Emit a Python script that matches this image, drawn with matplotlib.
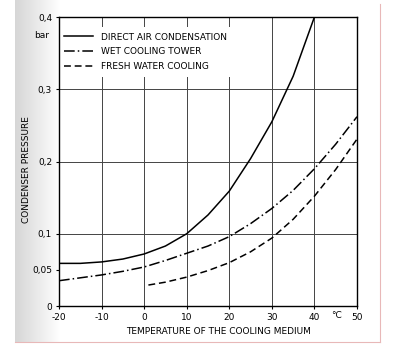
import numpy as np
import matplotlib
matplotlib.use("Agg")
import matplotlib.pyplot as plt

# ---- data ----
t_air = [-20, -15, -10, -5, 0, 5, 10, 15, 20, 25, 30, 35, 40]
p_air = [0.059, 0.059, 0.061, 0.065, 0.072, 0.083, 0.100, 0.126, 0.159, 0.204, 0.255, 0.318, 0.400]

t_wet = [-20, -15, -10, -5, 0, 5, 10, 15, 20, 25, 30, 35, 40, 45, 50]
p_wet = [0.035, 0.039, 0.043, 0.048, 0.054, 0.063, 0.073, 0.083, 0.096, 0.114, 0.135, 0.160, 0.190, 0.224, 0.262]

t_fresh = [1, 5, 10, 15, 20, 25, 30, 35, 40, 45, 50]
p_fresh = [0.029, 0.033, 0.040, 0.049, 0.060, 0.075, 0.094, 0.120, 0.152, 0.189, 0.231]

labels = ["DIRECT AIR CONDENSATION", "WET COOLING TOWER", "FRESH WATER COOLING"]
x_ticks = [-20, -10, 0, 10, 20, 30, 40, 50]
y_ticks = [0, 0.05, 0.1, 0.2, 0.3, 0.4]
y_ticklabels = ["0", "0,05", "0,1", "0,2", "0,3", "0,4"]
x_label = "TEMPERATURE OF THE COOLING MEDIUM"
y_label = "CONDENSER PRESSURE"

W, H = 400, 352
fig = plt.figure(figsize=(W / 100, H / 100), dpi=100)
fig.patch.set_facecolor("white")

# scanned-page background: gray shade on the left, pink page border
bg = fig.add_axes([0, 0, 1, 1], zorder=-5)
img = np.ones((H, W, 3))
xs = np.arange(W)
shade = np.clip((xs - 15) / 45.0, 0, 1)
g = 0.84 + 0.16 * shade
g[xs < 15] = 1.0
for c in range(3):
    img[:342, :, c] = g[None, :]
img[342:, :, :] = 1.0
img[:, 380:, :] = 1.0
bg.imshow(img, extent=[0, W, H, 0], aspect="auto", interpolation="bilinear")
bg.plot([15, 380], [342, 342], color="#e8b8b8", lw=0.8)
bg.plot([380, 380], [4, 342], color="#e8b8b8", lw=0.8)
bg.set_xlim(0, W)
bg.set_ylim(H, 0)
bg.axis("off")

L, R, T, B = 59, 357, 17, 306
ax = fig.add_axes([L / W, 1 - B / H, (R - L) / W, (B - T) / H])
ax.set_facecolor("white")
ax.set_xlim(-20, 50)
ax.set_ylim(0, 0.4)

fs = 6.5
ax.plot(t_air, p_air, color="black", lw=1.1, label=labels[0], zorder=3)
ax.plot(t_wet, p_wet, color="black", lw=1.1, ls=(0, (7, 2, 1, 2)), label=labels[1], zorder=3)
ax.plot(t_fresh, p_fresh, color="black", lw=1.1, ls=(0, (4.5, 2.5)), label=labels[2], zorder=3)

ax.set_xticks(x_ticks)
ax.set_xticklabels([str(v) for v in x_ticks], fontsize=fs)
ax.set_yticks(y_ticks)
ax.set_yticklabels(y_ticklabels, fontsize=fs)
ax.tick_params(direction="out", length=2.5, width=0.8, pad=2.5, colors="black")

for v in x_ticks[1:-1]:
    ax.axvline(v, color="#444444", lw=0.7, zorder=1)
for v in [0.1, 0.2, 0.3]:
    ax.axhline(v, color="#444444", lw=0.7, zorder=1)
for s in ax.spines.values():
    s.set_linewidth(1.0)

leg = ax.legend(loc="upper left", bbox_to_anchor=(0, 0.965), borderaxespad=0,
                frameon=True, fancybox=False, framealpha=1, edgecolor="none",
                facecolor="white", fontsize=fs, handlelength=3.2,
                handletextpad=0.9, labelspacing=0.65, borderpad=0.6)
leg.set_zorder(2)

fig.text(49 / W, 1 - 36 / H, "bar", fontsize=fs, ha="right", va="center")
fig.text(336 / W, 1 - 315.5 / H, "°C", fontsize=fs, ha="center", va="center")
fig.text(219 / W, 1 - 331 / H, x_label, fontsize=fs, ha="center", va="center")
fig.text(27 / W, 1 - 170 / H, y_label, fontsize=fs, ha="center", va="center", rotation=90)

fig.savefig("out.png", dpi=100)
